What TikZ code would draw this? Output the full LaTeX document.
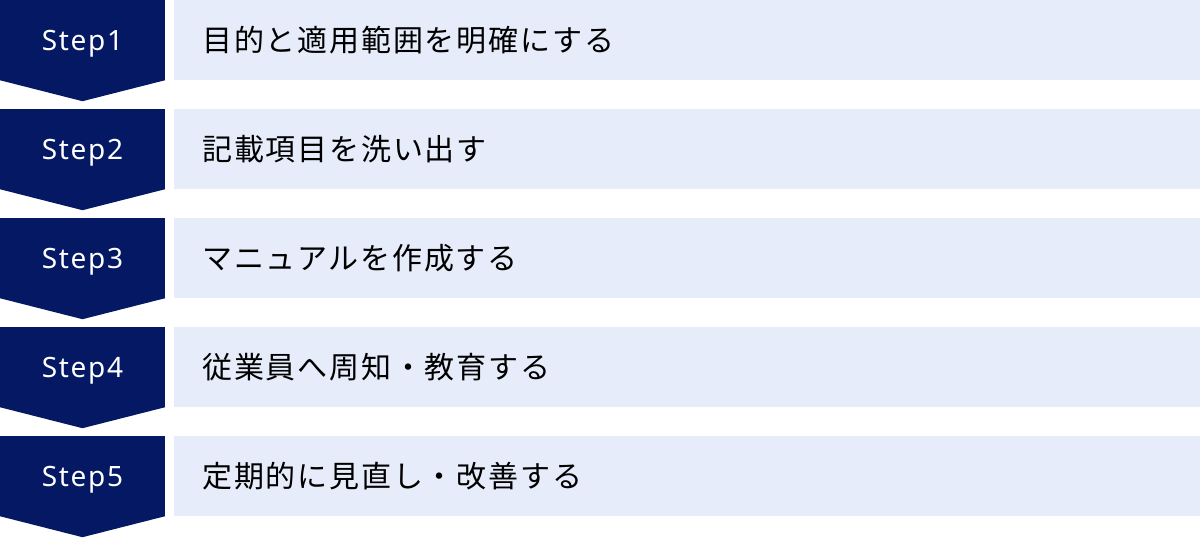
\documentclass[tikz,border=0pt]{standalone}
\usepackage{fontspec}
\setmainfont[LetterSpace=6.0]{Noto Sans CJK JP}
\newfontfamily\stepfont[LetterSpace=6.0]{Noto Sans}
\usetikzlibrary{positioning}
\definecolor{marine}{RGB}{4,24,100}
\definecolor{ciel}{RGB}{230,236,249}

\begin{document}
\begin{tikzpicture}[
      node distance=109pt,
      etape/.style={
        fill=marine,
        text=white,
        minimum width=165pt,
        minimum height=80pt,
        inner sep=0pt,
        text height=20pt,
        text depth=0pt,
        font=\stepfont\fontsize{28pt}{30pt}\selectfont
      },
      consigne/.style={
        fill=ciel,
        text=black,
        anchor=west,
        minimum height=80pt,
        text width=970pt,
        inner xsep=28pt,
        inner ysep=0pt,
        align=left,
        font=\fontsize{30pt}{34pt}\selectfont
      },
      pointe/.style={
        fill=marine
      }
    ]
    \useasboundingbox (0,0) rectangle (1200pt,-538pt);
    \node[etape] (s1) at (82.5pt,-40pt) {Step1} ;
    \node[etape, below of=s1] (s2) {Step2} ;
    \node[etape, below of=s2] (s3) {Step3} ;
    \node[etape, below of=s3] (s4) {Step4} ;
    \node[etape, below of=s4] (s5) {Step5} ;
    \node[consigne, right=9pt of s1] (t1) {目的と適用範囲を明確にする} ;
    \node[consigne, right=9pt of s2] (t2) {記載項目を洗い出す} ;
    \node[consigne, right=9pt of s3] (t3) {マニュアルを作成する} ;
    \node[consigne, right=9pt of s4] (t4) {従業員へ周知・教育する} ;
    \node[consigne, right=9pt of s5] (t5) {定期的に見直し・改善する} ;
    % pointes des chevrons
    \foreach \s in {s1,s2,s3,s4,s5} {
      \node[coordinate,yshift=-21pt] (\s p) at (\s.south) {};
      \fill[pointe] (\s.south west) -- (\s p) -- (\s.south east) -- cycle;
    }

  \end{tikzpicture}
\end{document}
